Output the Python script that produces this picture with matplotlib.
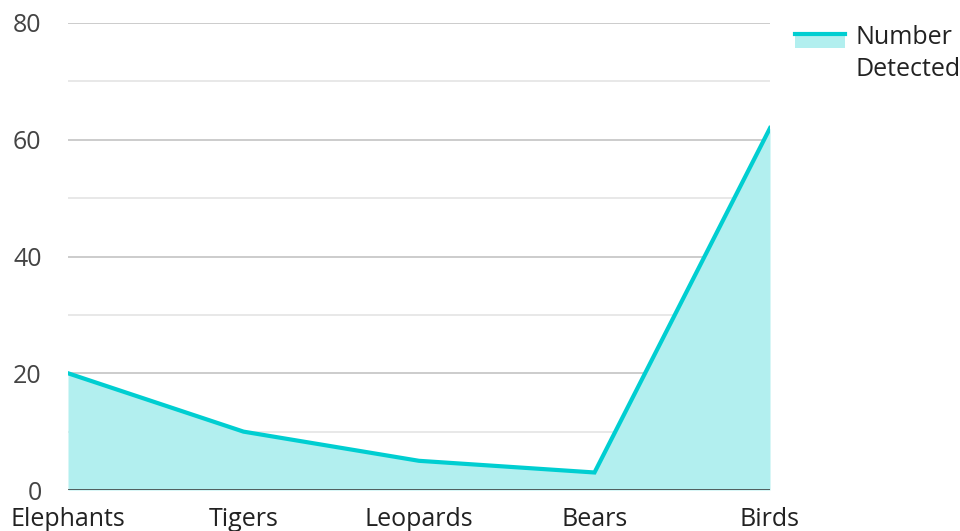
import matplotlib
matplotlib.use("Agg")
import matplotlib.pyplot as plt
from matplotlib.legend_handler import HandlerBase
from matplotlib.patches import Rectangle
from matplotlib.lines import Line2D

plt.rcParams["font.family"] = ["Open Sans", "DejaVu Sans"]

animals = ["Elephants", "Tigers", "Leopards", "Bears", "Birds"]
detected = [20, 10, 5, 3, 62]
major_ticks = [0, 20, 40, 60, 80]
minor_ticks = [10, 30, 50, 70]

LINE_C = "#00CED1"
FILL_C = "#B2EFEF"
FS = 18


class AreaHandler(HandlerBase):
    # line on top, filled band below it, aligned with the first text line
    def create_artists(self, legend, orig_handle, xdescent, ydescent,
                       width, height, fontsize, trans):
        y_top = height + 10.8
        rect = Rectangle((-xdescent, y_top - height), width, height,
                         facecolor=FILL_C, edgecolor="none", transform=trans)
        line = Line2D([-xdescent, -xdescent + width], [y_top, y_top],
                      color=LINE_C, lw=3, transform=trans)
        return [rect, line]


fig = plt.figure(figsize=(9.6, 5.31), dpi=100)
ax = fig.add_axes([68 / 960, 1 - 490 / 531, 702 / 960, 467 / 531])

x = range(len(animals))
ax.fill_between(x, detected, 0, color=FILL_C, lw=0, zorder=2)
ax.plot(x, detected, color=LINE_C, lw=3, zorder=3, solid_joinstyle="miter")

ax.set_xlim(0, len(animals) - 1)
ax.set_ylim(0, 80)
ax.set_xticks(list(x))
ax.set_xticklabels(animals, fontsize=FS, color="#222222")
ax.set_yticks(major_ticks)
ax.set_yticklabels([str(v) for v in major_ticks], fontsize=FS, color="#444444")
ax.set_yticks(minor_ticks, minor=True)

for v in major_ticks[1:]:
    ax.axhline(v, color="#c8c8c8", lw=1.3, zorder=1)
for v in minor_ticks:
    ax.axhline(v, color="#e6e6e6", lw=1.3, zorder=1)
ax.axhline(0, color="#333333", lw=1.8, zorder=4)

ax.tick_params(axis="both", which="both", length=0)
ax.tick_params(axis="y", pad=19)
ax.tick_params(axis="x", pad=12)
for s in ax.spines.values():
    s.set_visible(False)

leg = ax.legend(handles=[Rectangle((0, 0), 1, 1)], labels=["Number\nDetected"],
                handler_map={Rectangle: AreaHandler()},
                loc="upper left", bbox_to_anchor=(795 / 960, 1 - 25 / 531),
                bbox_transform=fig.transFigure, borderpad=0, borderaxespad=0,
                frameon=False, fontsize=FS, handlelength=2.0, handleheight=0.5,
                handletextpad=0.4, labelcolor="#222222")
leg.get_texts()[0].set_linespacing(1.35)

fig.savefig("out.png", dpi=100)
